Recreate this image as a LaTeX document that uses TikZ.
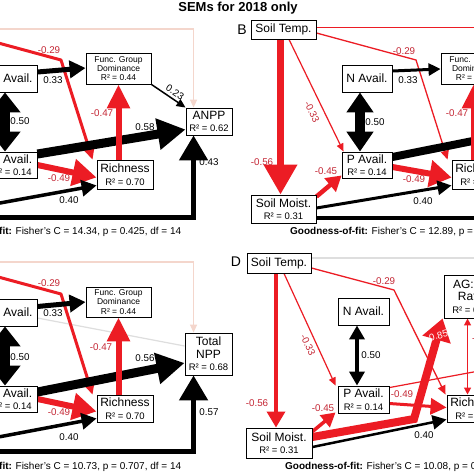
\documentclass[tikz,border=0pt]{standalone}
\usepackage{fontspec}
\setmainfont{Liberation Sans}
\usetikzlibrary{arrows.meta,calc}
\definecolor{sred}{RGB}{236,28,36}
\definecolor{lred}{RGB}{196,38,52}
\definecolor{fpink}{RGB}{244,214,204}
\definecolor{fgray}{RGB}{222,222,222}
\newcommand{\bigf}{\fontsize{12}{12.5}\selectfont}
\newcommand{\smf}{\fontsize{9.5}{11}\selectfont}
\newcommand{\labf}{\fontsize{9.8}{11}\selectfont}
\newcommand{\fitf}{\fontsize{10}{11}\selectfont}
\newcommand{\tinyf}{\fontsize{8.5}{9.2}\selectfont}
\pgfdeclarelayer{bg}
\pgfsetlayers{bg,main}
\tikzset{
  box/.style={draw, fill=white, line width=0.9pt, inner sep=0pt, align=center, font=\bigf},
  lab/.style={font=\labf, inner sep=0pt},
  rlab/.style={lab, text=lred},
  ah/.style 2 args={-{Triangle[length=#1pt,width=#2pt]}},
  dh/.style 2 args={{Triangle[length=#1pt,width=#2pt]}-{Triangle[length=#1pt,width=#2pt]}},
  fit/.style={font=\fitf, anchor=west, inner sep=0pt},
  plet/.style={font=\fontsize{14}{14}\selectfont, inner sep=0pt}
}
\begin{document}
\begin{tikzpicture}[x=1pt,y=-1pt]
\useasboundingbox (0,0) rectangle (474,474);
\begin{pgfonlayer}{bg}
\fill[white] (0,0) rectangle (474,474);
\end{pgfonlayer}
\clip (0,0) rectangle (474,474);

\node[font=\bfseries\fontsize{13}{14}\selectfont] (title) at (238,8) {SEMs for 2018 only};
\node[plet] (labB) at (242,30) {B};
\node[plet] (labD) at (236,262) {D};

% ================= Panel A =================
\node[box, minimum width=65pt, minimum height=19pt] (aST) at (-71.5,29.5) {Soil Temp.};
\node[box, minimum width=50pt, minimum height=27pt] (aNA) at (12,78.5) {N Avail.};
\node[box, minimum width=65pt, minimum height=31pt, font=\tinyf] (aFG) at (118.5,68.5) {Func. Group\\Dominance\\R² = 0.44};
\node[box, minimum width=50pt, minimum height=26pt] (aPA) at (12,165) {P Avail.\\{\smf R² = 0.14}};
\node[box, minimum width=65pt, minimum height=28pt] (aSM) at (-71.5,209) {Soil Moist.\\{\smf R² = 0.31}};
\node[box, minimum width=56pt, minimum height=29pt] (aRI) at (125,174.5) {Richness\\{\smf R² = 0.70}};
\node[box, minimum width=46pt, minimum height=27pt] (aAN) at (209,121.5) {ANPP\\{\smf R² = 0.62}};

\begin{pgfonlayer}{bg}
\draw[fpink, line width=1.2pt, ah={8}{7}] ($(aST.east)+(0,-0.5)$) -| ($(aAN.north west)+(8,0)$);
\draw[sred, line width=3pt, line join=round, ah={11}{10}] ($(aST.east)+(0,3.5)$) -- (61,60) -- ($(aRI.north west)+(-4,0)$);
\draw[black, line width=5pt, ah={16}{17}] ($(aNA.east)+(0,-6.5)$) -- ($(aFG.west)+(0,-0.5)$);
\draw[black, line width=10pt, dh={20}{30}] ($(aNA.south)+(-7,0)$) -- ($(aPA.north)+(-7,0)$);
\draw[sred, line width=6pt, ah={24}{26}] (aPA.east) -- ($(aRI.west)+(0,3)$);
\draw[black, line width=9pt, ah={28}{30}] ($(aPA.east)+(0,-11)$) -- ($(aAN.west)+(0,8)$);
\draw[black, line width=3.5pt, ah={15}{16}] ($(aSM.east)+(0,1)$) -- ($(aRI.south west)+(0,-4)$);
\draw[black, line width=5pt, line join=miter, ah={25}{28}] ($(aSM.east)+(0,8.5)$) -| ($(aAN.south west)+(8,0)$);
\draw[sred, line width=6pt, ah={24}{22}] (aFG.south |- aRI.north) -- (aFG.south);
\draw[black, line width=1.5pt, ah={9}{8}] (aFG.south east) -- (aAN.north west);
\end{pgfonlayer}

\node[rlab] (aL1) at (49,50) {-0.29};
\node[lab] (aL2) at (53,80) {0.33};
\node[lab, rotate=-34] (aL3) at (175,92) {0.23};
\node[rlab] (aL4) at (102,113) {-0.47};
\node[lab] (aL5) at (20,121) {0.50};
\node[lab] (aL6) at (145,127) {0.58};
\node[lab] (aL7) at (209,162) {0.43};
\node[rlab] (aL8) at (59,178) {-0.49};
\node[lab] (aL9) at (69,200) {0.40};
\node[fit] (aFit) at (-66,232) {\textbf{Goodness-of-fit:} Fisher's C = 14.34, p = 0.425, df = 14};

% ================= Panel B =================
\node[box, minimum width=65pt, minimum height=19pt] (bST) at (283.5,29.5) {Soil Temp.};
\node[box, minimum width=50pt, minimum height=27pt] (bNA) at (367,78.5) {N Avail.};
\node[box, minimum width=65pt, minimum height=31pt, font=\tinyf] (bFG) at (473.5,68.5) {Func. Group\\Dominance\\R² = 0.44};
\node[box, minimum width=50pt, minimum height=26pt] (bPA) at (367,165) {P Avail.\\{\smf R² = 0.14}};
\node[box, minimum width=65pt, minimum height=28pt] (bSM) at (283.5,209) {Soil Moist.\\{\smf R² = 0.31}};
\node[box, minimum width=56pt, minimum height=29pt] (bRI) at (480,174.5) {Richness\\{\smf R² = 0.70}};
\node[box, minimum width=46pt, minimum height=27pt] (bAN) at (564,121.5) {ANPP\\{\smf R² = 0.62}};

\begin{pgfonlayer}{bg}
\draw[sred, line width=1.2pt, ah={8}{7}] ($(bST.east)+(0,-2)$) -| ($(bAN.north west)+(8,0)$);
\draw[sred, line width=1.3pt, ah={9}{8}] ($(bST.east)+(0,3.5)$) -- (416,60) -- ($(bRI.north west)+(-4,0)$);
\draw[sred, line width=1.2pt, ah={8}{7}] ($(bST.south)+(5.5,0)$) -- ($(bPA.north west)+(2,0)$);
\draw[sred, line width=7pt, ah={30}{32}] ($(bST.south)+(-3,0)$) -- ($(bSM.north)+(-3,0)$);
\draw[black, line width=3pt, ah={12}{12}] ($(bNA.east)+(0,-7.5)$) -- ($(bFG.west)+(0,0.5)$);
\draw[black, line width=10pt, dh={20}{26}] ($(bNA.south)+(-7,0)$) -- ($(bPA.north)+(-7,0)$);
\draw[sred, line width=4.5pt, ah={15}{17}] ($(bSM.north east)+(0,2)$) -- ($(bPA.south west)+(0,-3)$);
\draw[sred, line width=6pt, ah={22}{26}] ($(bPA.east)+(0,2)$) -- ($(bRI.west)+(0,3)$);
\draw[black, line width=8pt, ah={28}{30}] ($(bPA.east)+(0,-8)$) -- ($(bAN.west)+(0,6)$);
\draw[black, line width=3pt, ah={14}{14}] ($(bSM.east)+(0,-1)$) -- ($(bRI.south west)+(0,-4)$);
\draw[black, line width=4pt, ah={25}{28}] ($(bSM.east)+(0,8.5)$) -| ($(bAN.south west)+(8,0)$);
\draw[sred, line width=6pt, ah={24}{22}] (bFG.south |- bRI.north) -- (bFG.south);
\draw[black, line width=1.5pt, ah={9}{8}] (bFG.south east) -- (bAN.north west);
\end{pgfonlayer}

\node[rlab] (bL1) at (404,51) {-0.29};
\node[lab] (bL2) at (408,80) {0.33};
\node[rlab, rotate=-64] (bL3) at (312,112) {-0.33};
\node[lab] (bL4) at (375,122) {0.50};
\node[rlab] (bL5) at (262,162) {-0.56};
\node[rlab] (bL6) at (326,171) {-0.45};
\node[rlab] (bL7) at (414,179) {-0.49};
\node[lab] (bL8) at (423,201) {0.40};
\node[rlab] (bL9) at (457,113) {-0.47};
\node[fit] (bFit) at (290,232) {\textbf{Goodness-of-fit:} Fisher's C = 12.89, p = 0.535, df = 14};

% ================= Panel C =================
\node[box, minimum width=65pt, minimum height=19pt] (cST) at (-71.5,263.5) {Soil Temp.};
\node[box, minimum width=50pt, minimum height=27pt] (cNA) at (12,312.5) {N Avail.};
\node[box, minimum width=65pt, minimum height=30pt, font=\tinyf] (cFG) at (118.5,302) {Func. Group\\Dominance\\R² = 0.44};
\node[box, minimum width=50pt, minimum height=26pt] (cPA) at (12,399) {P Avail.\\{\smf R² = 0.14}};
\node[box, minimum width=65pt, minimum height=28pt] (cSM) at (-71.5,443) {Soil Moist.\\{\smf R² = 0.31}};
\node[box, minimum width=56pt, minimum height=27pt] (cRI) at (125,408.5) {Richness\\{\smf R² = 0.70}};
\node[box, minimum width=47pt, minimum height=42pt] (cTN) at (208.5,354) {Total\\NPP\\{\smf R² = 0.68}};

\begin{pgfonlayer}{bg}
\draw[fpink, line width=1.2pt, ah={8}{7}] ($(cST.east)+(0,-1.5)$) -| ($(cTN.north west)+(9,0)$);
\draw[fgray, line width=1.2pt] ($(cNA.east)+(0,5.5)$) -- ($(cTN.west)+(0,-8)$);
\draw[sred, line width=3pt, line join=round, ah={11}{10}] ($(cST.east)+(0,3.5)$) -- (61,294) -- ($(cRI.north west)+(-4,0)$);
\draw[black, line width=5pt, ah={16}{17}] ($(cNA.east)+(0,-6)$) -- (cFG.west);
\draw[black, line width=10pt, dh={20}{30}] ($(cNA.south)+(-7,0)$) -- ($(cPA.north)+(-7,0)$);
\draw[sred, line width=6pt, ah={24}{26}] (cPA.east) -- ($(cRI.west)+(0,3)$);
\draw[black, line width=9pt, ah={28}{30}] ($(cPA.east)+(0,-7)$) -- ($(cTN.west)+(0,9)$);
\draw[black, line width=3.5pt, ah={15}{16}] ($(cSM.east)+(0,1)$) -- ($(cRI.south west)+(0,-4)$);
\draw[black, line width=5pt, ah={25}{28}] ($(cSM.east)+(0,8)$) -| ($(cTN.south west)+(9,0)$);
\draw[sred, line width=6pt, ah={24}{22}] (cFG.south |- cRI.north) -- (cFG.south);
\end{pgfonlayer}

\node[rlab] (cL1) at (49,283) {-0.29};
\node[lab] (cL2) at (53,313) {0.33};
\node[rlab] (cL3) at (101,347) {-0.47};
\node[lab] (cL4) at (20,357) {0.50};
\node[lab] (cL5) at (145,358) {0.56};
\node[lab] (cL6) at (209,412) {0.57};
\node[rlab] (cL7) at (59,412) {-0.49};
\node[lab] (cL8) at (69,437) {0.40};
\node[fit] (cFit) at (-66,467) {\textbf{Goodness-of-fit:} Fisher's C = 10.73, p = 0.707, df = 14};

% ================= Panel D =================
\node[box, minimum width=64pt, minimum height=20pt] (dST) at (279,263) {Soil Temp.};
\node[box, minimum width=51pt, minimum height=27pt] (dNA) at (363.5,311.5) {N Avail.};
\node[box, minimum width=51pt, minimum height=27pt] (dPA) at (363.5,399.5) {P Avail.\\{\smf R² = 0.14}};
\node[box, minimum width=66pt, minimum height=30pt] (dSM) at (279,443) {Soil Moist.\\{\smf R² = 0.31}};
\node[box, minimum width=56pt, minimum height=27pt] (dRI) at (475,408.5) {Richness\\{\smf R² = 0.70}};
\node[box, minimum width=56pt, minimum height=43pt] (dAG) at (472,296.5) {AG:BG\\Ratio\\{\smf R² = 0.72}};

\begin{pgfonlayer}{bg}
\coordinate (dFar) at (600,258);
\draw[fgray, line width=1.2pt] ($(dST.east)+(0,-5)$) -- (dFar);
\draw[sred, line width=1.3pt, ah={9}{8}] ($(dST.east)+(0,5)$) -- (394,290) -- ($(dRI.north west)+(-1,0)$);
\draw[sred, line width=1.2pt, ah={8}{7}] ($(dST.south)+(5,0)$) -- ($(dPA.north west)+(-2,0)$);
\draw[sred, line width=3.5pt, ah={16}{18}] ($(dST.south)+(-3,0)$) -- ($(dSM.north)+(-3,0)$);
\draw[black, line width=4pt, dh={14}{15}] ($(dNA.south)+(-6.5,0)$) -- ($(dPA.north)+(-6.5,0)$);
\draw[sred, line width=3.5pt, ah={14}{15}] ($(dSM.north east)+(0,4)$) -- ($(dPA.south west)+(-2,-1)$);
\draw[sred, line width=3pt, ah={16}{16}] ($(dPA.east)+(0,4)$) -- ($(dRI.west)+(0,-1)$);
\coordinate (dFar2) at (560,356);
\draw[sred, line width=1.2pt] ($(dPA.north east)+(0,2)$) -- (dFar2);
\draw[sred, line width=8pt, line join=miter, ah={22}{28}] ($(dSM.east)+(0,-6)$) -- (414,419) -- ($(dAG.south west)+(-1,0)$);
\draw[black, line width=2.5pt, ah={14}{14}] ($(dSM.east)+(0,4)$) -- ($(dRI.south west)+(0,-3)$);
\draw[sred, line width=1.3pt, dh={7}{7}] ($(dAG.south west)+(24,0)$) -- ($(dRI.north west)+(21,0)$);
\end{pgfonlayer}

\node[rlab] (dL1) at (384,281) {-0.29};
\node[rlab, rotate=-65] (dL2) at (308,345) {-0.33};
\node[lab] (dL3) at (371,355) {0.50};
\node[rlab] (dL4) at (257,403) {-0.56};
\node[rlab] (dL5) at (323,408) {-0.45};
\node[rlab] (dL6) at (402,394) {-0.49};
\node[lab] (dL7) at (424,435) {0.40};
\node[lab, text=white, rotate=15] (dL8) at (437,336) {-0.85};
\node[rlab, anchor=west] (dL9) at (472,340) {-};
\node[fit] (dFit) at (285,467) {\textbf{Goodness-of-fit:} Fisher's C = 10.08, p = 0.609, df = 12};
\end{tikzpicture}
\end{document}
